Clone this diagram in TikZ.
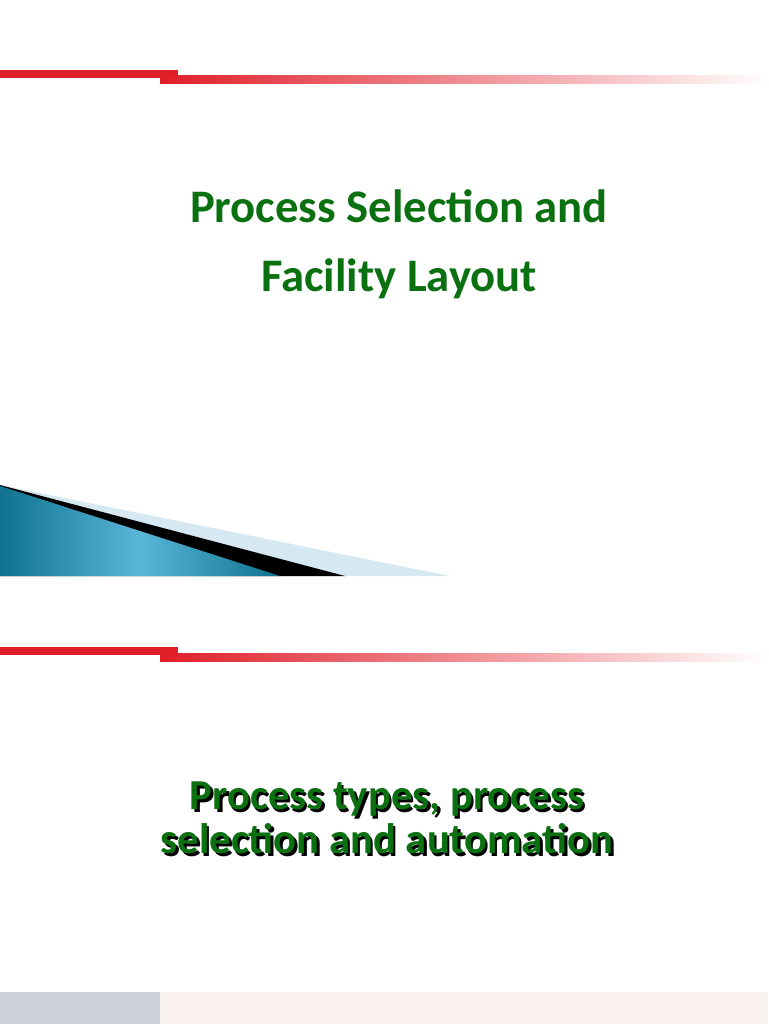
\documentclass[tikz,border=0pt]{standalone}
\usepackage{fontspec}
\setmainfont{Carlito}
\definecolor{tgreen}{HTML}{0A7010}
\definecolor{bred}{HTML}{E01E28}
\definecolor{tblue}{HTML}{0E7290}
\definecolor{mblue}{HTML}{5AB6D6}
\definecolor{lblue}{HTML}{D6E9F2}
\definecolor{fgray}{HTML}{CDD0DA}
\definecolor{fbeige}{HTML}{F9F1EE}
\begin{document}
\begin{tikzpicture}[x=0.75pt,y=-0.75pt]
\tikzset{title/.style={text=tgreen,font=\bfseries\fontsize{35}{40}\selectfont,align=center},
sub/.style={font=\bfseries\fontsize{32}{33}\selectfont,align=center}}
\useasboundingbox (0,0) rectangle (768,1024);
\fill[white] (0,0) rectangle (768,1024);
\foreach \o in {0,577}{
  \fill[bred] (0,70+\o) rectangle (178,78+\o);
  \shade[left color=bred,right color=white] (160,76+\o) rectangle (768,84+\o);
  \fill[bred] (160,76+\o) rectangle (178,78+\o);
}
\fill[lblue] (0,485) -- (450,576) -- (0,576) -- cycle;
\fill[black] (0,485) -- (345,576) -- (0,576) -- cycle;
\shade[left color=tblue,right color=tblue,middle color=mblue] (0,486) -- (280,576) -- (0,576) -- cycle;
\node[title] (t1) at (399,206) {Process Selection and};
\node[title] (t2) at (399,279) {Facility Layout};
\node[sub,text=black] (s1s) at (389.5,820.5) {Process types, process\\selection and automation};
\node[sub,text=tgreen] (s1) at (387,818) {Process types, process\\selection and automation};
\fill[fgray] (0,992) rectangle (160,1024);
\fill[fbeige] (160,992) rectangle (768,1024);
\end{tikzpicture}
\end{document}
